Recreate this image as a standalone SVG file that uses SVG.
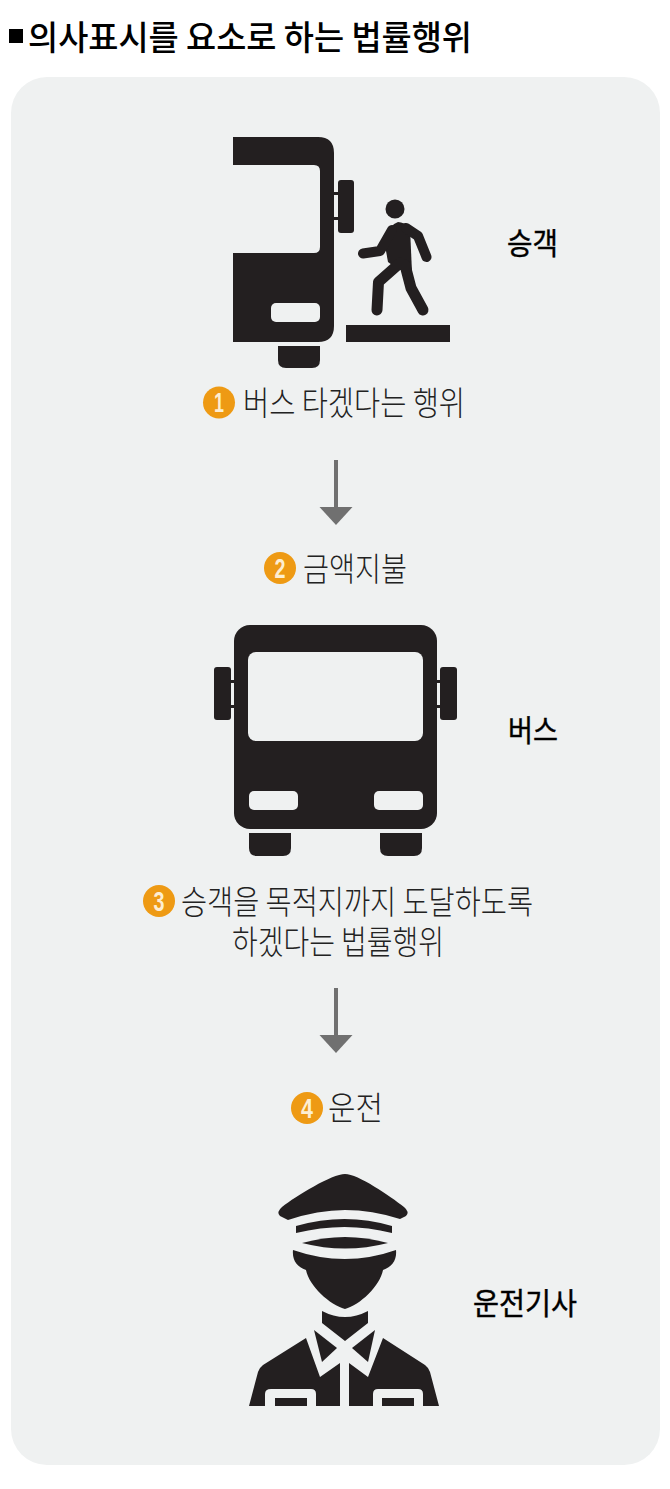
<svg xmlns="http://www.w3.org/2000/svg" width="670" height="1489" viewBox="0 0 670 1489">
<style>
text{font-family:"Noto Sans CJK KR","Noto Sans",sans-serif;fill:#222}
.t{font-size:33px;font-weight:300}
.n{font-size:30px;font-weight:400;fill:#000;stroke:#000;stroke-width:.4}
.d{font-family:"Liberation Sans",sans-serif;font-size:27px;font-weight:700;fill:#fdeed2;text-anchor:middle}
.b{fill:#ee9a14}
.i{fill:#231f20}
.w{fill:#eff1f1}
.s{fill:none;stroke:#231f20;stroke-linecap:round;stroke-linejoin:round}
.c{stroke:#707070;stroke-width:4;fill:none}
.h{fill:#707070}
</style>
<rect width="670" height="1489" fill="#fff"/>
<rect x="11" y="77" width="649" height="1388" rx="36" fill="#eff1f1"/>
<g id="title">
<rect x="9" y="29" width="14" height="14" fill="#000"/>
<text x="28" y="50" font-size="34" font-weight="500" style="fill:#000" textLength="444" lengthAdjust="spacingAndGlyphs">의사표시를 요소로 하는 법률행위</text>
</g>
<g id="connectors">
<path class="c" d="M336 460V510"/><path class="h" d="M319.500 507H352.500L336 525Z"/>
<path class="c" d="M336 988V1038"/><path class="h" d="M319.500 1035H352.500L336 1053Z"/>
</g>
<g id="passenger">
<path class="i" d="M233 137H318Q334 137 334 153V326Q334 342 318 342H233V253H314Q320 253 320 247V171Q320 165 314 165H233Z"/>
<rect class="w" x="271" y="303" width="49" height="19" rx="5"/>
<path class="i" d="M278 346H320V360Q320 368 312 368H286Q278 368 278 360Z"/>
<rect class="i" x="338" y="180" width="16" height="53" rx="3"/>
<rect class="i" x="334" y="192" width="5" height="3"/><rect class="i" x="334" y="217" width="5" height="3"/>
<rect class="i" x="346" y="325" width="104" height="17"/>
<circle class="i" cx="395" cy="209" r="9.500"/>
<path class="i" d="M384 240Q390 224 398 222Q404 222 410 228L412 272L396 268L388 262Z"/>
<path class="s" stroke-width="10" d="M363 253.500L380 251L392 230M406 228L418 236L426.500 257"/>
<path class="s" stroke-width="11" d="M377 310L378.500 282L400 263M405 265L411 288L423 310"/>
</g>
<g id="label-1">
<circle class="b" cx="219" cy="402.500" r="16"/><text class="d" x="219" y="412" textLength="10" lengthAdjust="spacingAndGlyphs">1</text>
<text class="t" x="243" y="415" textLength="222" lengthAdjust="spacingAndGlyphs">버스 타겠다는 행위</text>
</g>
<g id="label-2">
<circle class="b" cx="280" cy="568" r="16"/><text class="d" x="280" y="577.500" textLength="11" lengthAdjust="spacingAndGlyphs">2</text>
<text class="t" x="303" y="581" textLength="104" lengthAdjust="spacingAndGlyphs">금액지불</text>
</g>
<g id="bus">
<rect class="i" x="234" y="625" width="203" height="204" rx="16"/>
<rect class="w" x="248" y="652" width="175" height="89" rx="8"/>
<rect class="w" x="249" y="791" width="49" height="19" rx="5"/>
<rect class="w" x="374" y="791" width="49" height="19" rx="5"/>
<path class="i" d="M249 833H291V848Q291 856 283 856H257Q249 856 249 848Z"/>
<path class="i" d="M380 833H422V848Q422 856 414 856H388Q380 856 380 848Z"/>
<rect class="i" x="214" y="667" width="17" height="53" rx="3"/>
<rect class="i" x="440" y="667" width="17" height="53" rx="3"/>
<rect class="i" x="230" y="680" width="5" height="3"/><rect class="i" x="230" y="705" width="5" height="3"/>
<rect class="i" x="436" y="680" width="5" height="3"/><rect class="i" x="436" y="705" width="5" height="3"/>
</g>
<g id="label-3">
<circle class="b" cx="159" cy="901" r="16"/><text class="d" x="159" y="910.500" textLength="11" lengthAdjust="spacingAndGlyphs">3</text>
<text class="t" x="181" y="914" textLength="352" lengthAdjust="spacingAndGlyphs">승객을 목적지까지 도달하도록</text>
<text class="t" x="232" y="954" textLength="212" lengthAdjust="spacingAndGlyphs">하겠다는 법률행위</text>
</g>
<g id="label-4">
<circle class="b" cx="307" cy="1108" r="16"/><text class="d" x="307" y="1117.500" textLength="12" lengthAdjust="spacingAndGlyphs">4</text>
<text class="t" x="328" y="1120" textLength="55" lengthAdjust="spacingAndGlyphs">운전</text>
</g>
<g id="driver">
<path class="i" d="M345 1174C332 1174 296 1196 282 1207Q276 1212 280 1216L288 1220Q318 1210 345 1210Q372 1210 400 1219L406 1216Q410 1212 404 1207C390 1196 358 1174 345 1174Z"/>
<path class="i" d="M296 1226Q345 1212 392 1226V1233Q345 1221 296 1233Z"/>
<path class="i" d="M302 1243Q345 1231 388 1243Q345 1254 302 1243Z"/>
<path class="i" d="M293 1250Q345 1268 396 1250C397 1260 392 1267 383 1270C380 1286 360 1305 345 1309C330 1305 309 1286 306 1270C297 1267 292 1260 293 1250Z"/>
<path class="i" d="M322 1311Q345 1323 368 1311V1323L345 1341L322 1323Z"/>
<path class="i" d="M314 1330L337 1348L322 1362Z"/>
<path class="i" d="M375 1330L352 1348L368 1362Z"/>
<path class="i" d="M306 1338L320 1377L340 1363V1406H316V1394Q316 1389 311 1389H271Q265 1389 265 1394V1406H249L258 1372Q259 1368 263 1365Z"/>
<path class="i" d="M383 1338L368 1377L349 1363V1406H373V1394Q373 1389 378 1389H418Q423 1389 423 1394V1406H439L430 1372Q429 1368 425 1365Z"/>
<rect class="i" x="275" y="1398" width="32" height="8"/>
<rect class="i" x="382" y="1398" width="32" height="8"/>
</g>
<text id="node-passenger" class="n" x="507" y="254" textLength="51" lengthAdjust="spacingAndGlyphs">승객</text>
<text id="node-bus" class="n" x="508" y="741" textLength="50" lengthAdjust="spacingAndGlyphs">버스</text>
<text id="node-driver" class="n" x="473" y="1314" textLength="104" lengthAdjust="spacingAndGlyphs">운전기사</text>
</svg>
